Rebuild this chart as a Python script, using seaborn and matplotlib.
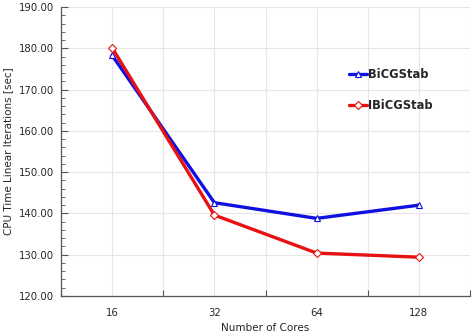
import numpy as np
import pandas as pd
import seaborn as sns
import matplotlib
matplotlib.use("Agg")
import matplotlib.pyplot as plt
from matplotlib.ticker import MultipleLocator, FixedLocator, NullFormatter, FuncFormatter
from matplotlib.lines import Line2D

cores = ["16", "32", "64", "128"]
bicgstab = [178.3, 142.6, 138.8, 142.0]
ibicgstab = [180.1, 139.6, 130.4, 129.4]
series_names = ["BiCGStab", "IBiCGStab"]

sns.set_theme(style="white")
plt.rcParams["font.family"] = ["DejaVu Sans"]

pos = np.arange(len(cores))
df = pd.DataFrame({
    "pos": np.concatenate([pos, pos]),
    "time": bicgstab + ibicgstab,
    "solver": [series_names[0]] * len(cores) + [series_names[1]] * len(cores),
})

fig = plt.figure(figsize=(4.74, 3.32), dpi=100)
ax = fig.add_axes([61 / 474, 1 - 296 / 332, (470 - 61) / 474, (296 - 7) / 332])

palette = {"BiCGStab": "#1010e0", "IBiCGStab": "#e81010"}
sns.lineplot(data=df, x="pos", y="time", hue="solver", style="solver",
             markers={"BiCGStab": "^", "IBiCGStab": "D"}, dashes=False,
             palette=palette, linewidth=2.4, markersize=5,
             ax=ax, legend=False)
for line in ax.lines:
    line.set_markerfacecolor("white")
    line.set_markeredgecolor(line.get_color())
    line.set_markeredgewidth(0.8)
    if line.get_marker() == "D":
        line.set_markersize(4.3)

ax.set_xlim(-0.5, 3.5)
ax.set_ylim(120, 190)
ax.yaxis.set_major_locator(MultipleLocator(10))
ax.yaxis.set_minor_locator(MultipleLocator(2))
ax.yaxis.set_major_formatter(FuncFormatter(lambda v, p: f"{v:.2f}"))

ax.xaxis.set_major_locator(FixedLocator(pos))
ax.xaxis.set_minor_locator(FixedLocator(np.arange(-0.5, 4.0, 1.0)))
ax.set_xticklabels(cores)
ax.xaxis.set_minor_formatter(NullFormatter())

ax.grid(True, which="major", axis="both", color="#e6e6e6", linewidth=0.8)
ax.grid(True, which="minor", axis="x", color="#e6e6e6", linewidth=0.8)
ax.set_axisbelow(True)

for s in ["top", "right"]:
    ax.spines[s].set_visible(False)
for s in ["left", "bottom"]:
    ax.spines[s].set_color("#555555")
    ax.spines[s].set_linewidth(0.9)

ax.tick_params(axis="y", which="major", direction="in", length=5, width=0.8,
               color="#555555", labelsize=7.3, pad=5, left=True)
ax.tick_params(axis="y", which="minor", direction="in", length=3, width=0.6,
               color="#555555", left=True)
ax.tick_params(axis="x", which="major", length=0, labelsize=7.3, pad=9)
ax.tick_params(axis="x", which="minor", direction="in", length=4, width=0.8,
               color="#555555", bottom=True)

ax.set_xlabel("Number of Cores", fontsize=7.5, labelpad=3)
ax.set_ylabel("CPU Time Linear Iterations [sec]", fontsize=7.5, labelpad=4)

handles = [
    Line2D([], [], color=palette["BiCGStab"], marker="^", markerfacecolor="white",
           markeredgecolor=palette["BiCGStab"], markeredgewidth=0.8,
           linewidth=2.4, markersize=5),
    Line2D([], [], color=palette["IBiCGStab"], marker="D", markerfacecolor="white",
           markeredgecolor=palette["IBiCGStab"], markeredgewidth=0.8,
           linewidth=2.4, markersize=4.3),
]
ax.legend(handles, series_names, loc="upper left", bbox_to_anchor=(0.68, 0.825),
          frameon=False, handlelength=1.5, handletextpad=0.1,
          labelspacing=1.6, prop={"size": 8.3, "weight": "semibold"})

fig.savefig("out.png", dpi=100)
